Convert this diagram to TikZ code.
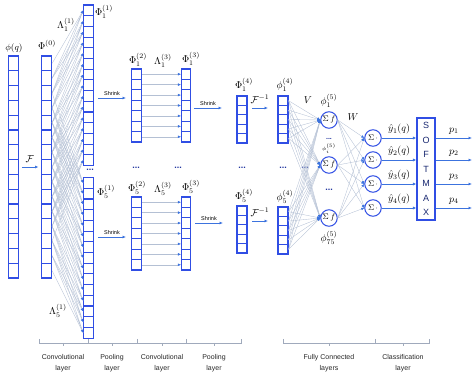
\documentclass[tikz,border=0pt]{standalone}
\usepackage{fontspec}
\newfontfamily\labelfont{Liberation Sans}
\usetikzlibrary{arrows.meta}
\definecolor{cellblue}{RGB}{48,78,228}
\definecolor{linkgray}{RGB}{180,192,212}
\definecolor{arrowblue}{RGB}{60,115,222}
\definecolor{dotblue}{RGB}{35,55,160}
\definecolor{bracketgray}{RGB}{160,170,188}

\begin{document}
\begin{tikzpicture}[x=1pt, y=-1pt, every node/.style={font=\normalsize},
  cell/.style={draw=cellblue, line width=1.1pt, inner sep=0pt, minimum width=10pt},
  link/.style={draw=linkgray, line width=0.35pt},
  tipin/.style={-{Latex[length=3pt, width=2.6pt, color=arrowblue]}},
  flow/.style={draw=arrowblue, line width=0.9pt, -{Latex[length=3.5pt, width=3pt]}},
  neuron/.style={circle, draw=cellblue, line width=1pt, minimum size=16.5pt, inner sep=0pt, font=\footnotesize},
  dots/.style={text=dotblue, font=\labelfont\bfseries\fontsize{9}{10}\selectfont},
  shrinklab/.style={font=\labelfont\fontsize{5.5}{6}\selectfont, inner sep=1.5pt},
  layerlab/.style={font=\labelfont\fontsize{7}{10.5}\selectfont, align=center, text=black!85},
  bracket/.style={draw=bracketgray, line width=0.6pt}]
  \useasboundingbox (0,0) rectangle (474,379);

  % input spectrum and its transform
  \foreach \i in {0,...,14}{
    \node[cell, minimum height=14.8pt] (a\i) at (13.3, 63.4+14.8*\i) {};
    \node[cell, minimum width=10.5pt, minimum height=14.8pt] (b\i) at (46.3, 63.4+14.8*\i) {};
  }
  \node[font=\small] (la) at (14,48) {$\phi(q)$};
  \node (lb) at (47,45) {$\Phi^{(0)}$};
  \draw[flow, shorten <=3pt, shorten >=2pt] (a7.east) -- (b7.west) node[midway, above=1pt] (lf) {$\mathcal{F}$};

  % first convolution
  \foreach \i in {0,...,14}{
    \node[cell, minimum width=9.5pt, minimum height=10.7pt] (ct\i) at (88.5, 10.35+10.7*\i) {};
    \node[cell, minimum width=9.5pt, minimum height=10.7pt] (cb\i) at (88.5, 183+10.7*\i) {};
  }
  \foreach \k in {0,...,14}{
    \pgfmathtruncatemacro\j{round(0.72*\k)}
    \pgfmathtruncatemacro\jj{min(\j+1,14)}
    \pgfmathtruncatemacro\jjj{min(\j+2,14)}
    \draw[link] (b\jj.east) -- (ct\k.west) (b\jjj.east) -- (ct\k.west);
    \draw[link, tipin] (b\j.east) -- (ct\k.west);
    \pgfmathtruncatemacro\m{14-round(0.72*(14-\k))}
    \pgfmathtruncatemacro\mm{max(\m-1,0)}
    \pgfmathtruncatemacro\mmm{max(\m-2,0)}
    \draw[link] (b\mm.east) -- (cb\k.west) (b\mmm.east) -- (cb\k.west);
    \draw[link, tipin] (b\m.east) -- (cb\k.west);
  }
  \node (lc1) at (104,12) {$\Phi_1^{(1)}$};
  \node (lc5) at (106,192) {$\Phi_5^{(1)}$};
  \node (ll1) at (66,25) {$\Lambda_1^{(1)}$};
  \node (ll5) at (58,311) {$\Lambda_5^{(1)}$};
  \node[dots] (dc) at (90,170) {...};

  % first pooling
  \coordinate (s1a) at (98,98);  \coordinate (s1b) at (126,98);
  \coordinate (s2a) at (98,237); \coordinate (s2b) at (126,237);
  \draw[flow] (s1a) -- (s1b) node[midway, above, shrinklab] (ls1) {Shrink};
  \draw[flow] (s2a) -- (s2b) node[midway, above, shrinklab] (ls2) {Shrink};

  % second convolution
  \foreach \i in {0,...,6}{
    \node[cell, minimum width=9.5pt, minimum height=10.4pt] (dt\i) at (136.5, 74.2+10.43*\i) {};
    \node[cell, minimum width=9.5pt, minimum height=10.4pt] (db\i) at (136.5, 202.2+10.43*\i) {};
    \node[cell, minimum width=9pt, minimum height=10.4pt] (et\i) at (186, 74.2+10.43*\i) {};
    \node[cell, minimum width=9pt, minimum height=10.4pt] (eb\i) at (186, 202.2+10.43*\i) {};
    \draw[link, tipin] (dt\i) -- (et\i);
    \draw[link, tipin] (db\i) -- (eb\i);
  }
  \node (ld1) at (138,60) {$\Phi_1^{(2)}$};
  \node (ld5) at (137,188) {$\Phi_5^{(2)}$};
  \node (lm1) at (163,61) {$\Lambda_1^{(3)}$};
  \node (lm5) at (163,189) {$\Lambda_5^{(3)}$};
  \node (le1) at (191,59) {$\Phi_1^{(3)}$};
  \node (le5) at (191,187) {$\Phi_5^{(3)}$};
  \node[dots] (dd) at (136,168) {...};
  \node[dots] (de) at (178,168) {...};

  % second pooling and inverse transform
  \coordinate (s3a) at (194,108); \coordinate (s3b) at (222,108);
  \coordinate (s4a) at (195,223); \coordinate (s4b) at (223,223);
  \draw[flow] (s3a) -- (s3b) node[midway, above, shrinklab] (ls3) {Shrink};
  \draw[flow] (s4a) -- (s4b) node[midway, above, shrinklab] (ls4) {Shrink};
  \foreach \i in {0,...,4}{
    \node[cell, minimum height=9.4pt] (ft\i) at (242, 100.7+9.4*\i) {};
    \node[cell, minimum height=9.4pt] (fb\i) at (242, 210.7+9.4*\i) {};
    \node[cell, minimum height=9.4pt] (gt\i) at (283, 100.7+9.4*\i) {};
    \node[cell, minimum height=9.4pt] (gb\i) at (283, 211.7+9.4*\i) {};
  }
  \node (lf1) at (244,85) {$\Phi_1^{(4)}$};
  \node (lf5) at (244,196) {$\Phi_5^{(4)}$};
  \node (lg1) at (285,85) {$\phi_1^{(4)}$};
  \node (lg5) at (285,197) {$\phi_5^{(4)}$};
  \coordinate (i1a) at (252,108); \coordinate (i1b) at (268,108);
  \coordinate (i2a) at (252,221); \coordinate (i2b) at (268,221);
  \draw[flow] (i1a) -- (i1b) node[midway, above=1pt] (li1) {$\mathcal{F}^{-1}$};
  \draw[flow] (i2a) -- (i2b) node[midway, above=1pt] (li2) {$\mathcal{F}^{-1}$};
  \node[dots] (df) at (242,168) {...};
  \node[dots] (dg) at (283,168) {...};
  \node[dots] (dv) at (305,168) {...};

  % fully connected and classification
  \node[neuron] (h1) at (329,120) {$\Sigma\,f$};
  \node[neuron] (h2) at (329,165) {$\Sigma\,f$};
  \node[neuron] (h3) at (329,218) {$\Sigma\,f$};
  \foreach \i/\y in {1/138, 2/160, 3/184, 4/208}{
    \node[neuron] (o\i) at (373,\y) {$\Sigma\,\cdot$};
    \coordinate (p\i) at (472,\y);
  }
  \node[draw=cellblue, line width=1.1pt, minimum width=18pt, minimum height=102pt, inner sep=0pt, align=center,
    text=dotblue!70!black, font=\labelfont\fontsize{9}{14.5}\selectfont] (sm) at (426,169) {S\\O\\F\\T\\M\\A\\X};
  \foreach \g in {gt,gb}
    \foreach \i in {0,...,4}
      \foreach \h in {h1,h2,h3}
        \draw[link, tipin] (\g\i.east) -- (\h.west);
  \foreach \h in {h1,h2,h3}
    \foreach \o in {o1,o2,o3,o4}
      \draw[link, tipin] (\h.east) -- (\o.west);
  \foreach \i in {1,...,4}{
    \draw[flow] (o\i) -- (o\i -| sm.west) node[midway, above] (ly\i) {$\hat{y}_\i(q)$};
    \draw[flow] (o\i -| sm.east) -- (p\i) node[midway, above] (lp\i) {$p_\i$};
  }
  \node (lh1) at (329,101) {$\phi_1^{(5)}$};
  \node[dots, font=\labelfont\bfseries\fontsize{7}{8}\selectfont] (dh0) at (329,139) {...};
  \node[font=\tiny] (lhi) at (329,149) {$\phi_i^{(5)}$};
  \node[dots] (dh) at (329,190) {...};
  \node (lh3) at (329,238) {$\phi_{75}^{(5)}$};
  \node (lv) at (308,100) {$V$};
  \node (lw) at (353,117) {$W$};

  % layer brackets
  \foreach \l/\r/\m in {39/88/63, 88/137/112, 137/186/162, 186/241/214, 283/375/329, 375/429/403}
    \draw[bracket] (\l,339) |- (\r,343) -- (\r,339) (\m,343) -- (\m,346);
  \foreach \m/\t [count=\n] in {63/{Convolutional\\layer}, 112/{Pooling\\layer}, 162/{Convolutional\\layer},
      214/{Pooling\\layer}, 329/{Fully Connected\\layers}, 403/{Classification\\layer}}
    \node[layerlab] (layer\n) at (\m,363) {\t};
\end{tikzpicture}
\end{document}
